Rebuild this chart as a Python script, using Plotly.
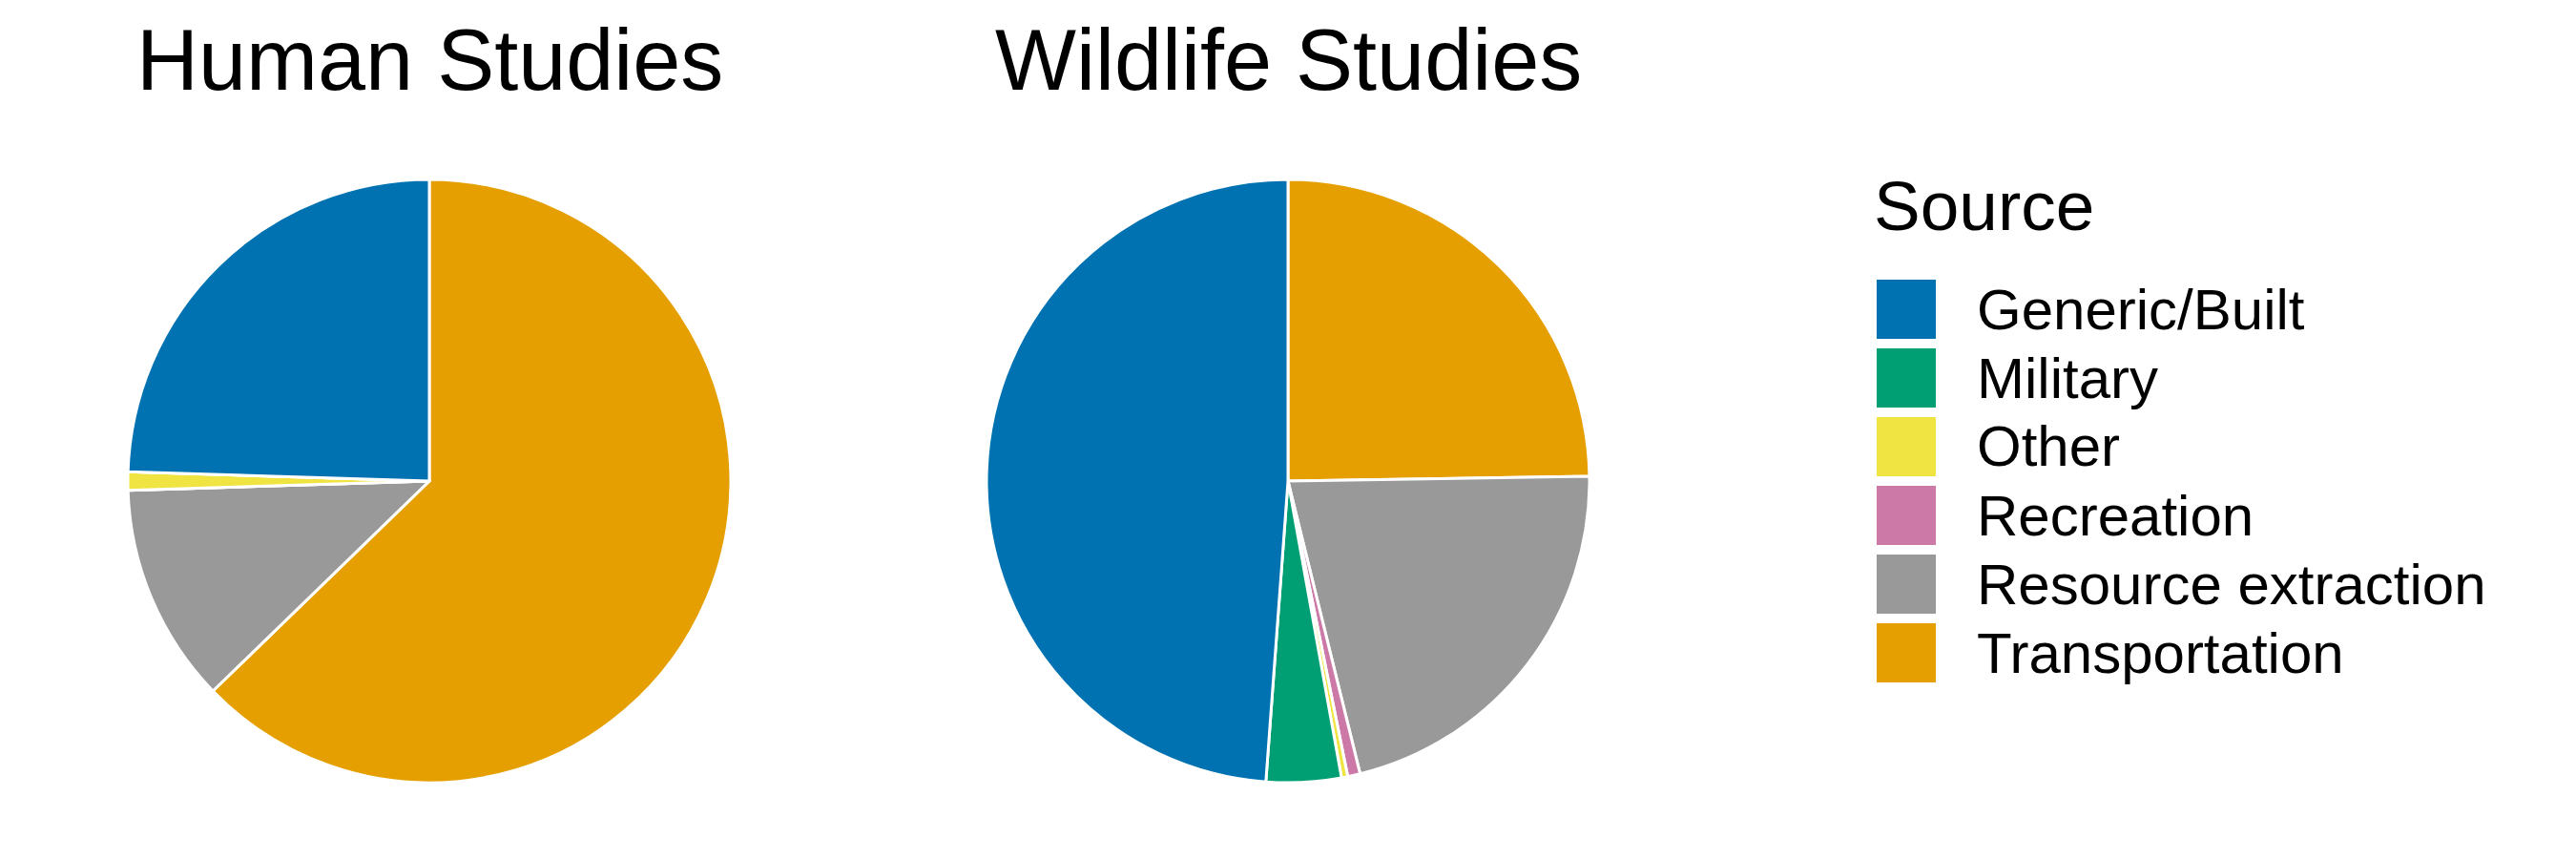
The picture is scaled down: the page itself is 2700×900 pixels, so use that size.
import plotly.graph_objects as go

# Number of studies per noise source
sources = ["Generic/Built", "Military", "Other", "Recreation",
           "Resource extraction", "Transportation"]
human_counts = [25, 0, 1, 0, 12, 64]
wildlife_counts = [146, 12, 1, 2, 64, 74]
source_colors = ["#0072B2", "#009E73", "#F0E442", "#CC79A7", "#999999", "#E69F00"]

W, H = 2700, 900
OFF = 8  # the page body adds an 8px margin around the plot
FONT = "Liberation Sans, Arial, sans-serif"


def px_x(x):
    return (x - OFF) / W


def px_y(y):
    return 1 - (y - OFF) / H


def add_pie(fig, counts, cx, cy, r):
    """Pie running clockwise from 12 o'clock in reversed legend order, as ggplot stacks it."""
    fig.add_trace(go.Pie(labels=sources[::-1], values=counts[::-1], sort=False,
                         direction="clockwise", rotation=0,
                         marker=dict(colors=source_colors[::-1],
                                     line=dict(color="white", width=3)),
                         textinfo="none", hoverinfo="label+value",
                         showlegend=False,
                         domain=dict(x=[px_x(cx - r), px_x(cx + r)],
                                     y=[px_y(cy + r), px_y(cy - r)])))


fig = go.Figure()
add_pie(fig, human_counts, 450, 504, 316)
add_pie(fig, wildlife_counts, 1350, 504, 316)

annotations = []
# Panel titles
for title, cx in [("Human Studies", 450), ("Wildlife Studies", 1350)]:
    annotations.append(dict(text=title, x=px_x(cx), y=px_y(63), xref="paper", yref="paper",
                            xanchor="center", yanchor="middle", showarrow=False,
                            font=dict(family=FONT, size=90, color="black")))

# Hand-built legend so the keys can be as large as in the reference
annotations.append(dict(text="Source", x=px_x(1962), y=px_y(216), xref="paper", yref="paper",
                        xanchor="left", yanchor="middle", showarrow=False,
                        font=dict(family=FONT, size=73, color="black")))
shapes = []
for i, (name, col) in enumerate(zip(sources, source_colors)):
    cy = 324 + 72 * i
    shapes.append(dict(type="rect", xref="paper", yref="paper",
                       x0=px_x(1967), x1=px_x(2029), y0=px_y(cy + 31), y1=px_y(cy - 31),
                       fillcolor=col, line=dict(width=0)))
    annotations.append(dict(text=name, x=px_x(2070), y=px_y(cy), xref="paper", yref="paper",
                            xanchor="left", yanchor="middle", showarrow=False,
                            font=dict(family=FONT, size=60, color="black")))

fig.update_layout(width=W, height=H, margin=dict(l=0, r=0, t=0, b=0),
                  paper_bgcolor="white", plot_bgcolor="white",
                  annotations=annotations, shapes=shapes, showlegend=False)

fig.write_html("out.html")
